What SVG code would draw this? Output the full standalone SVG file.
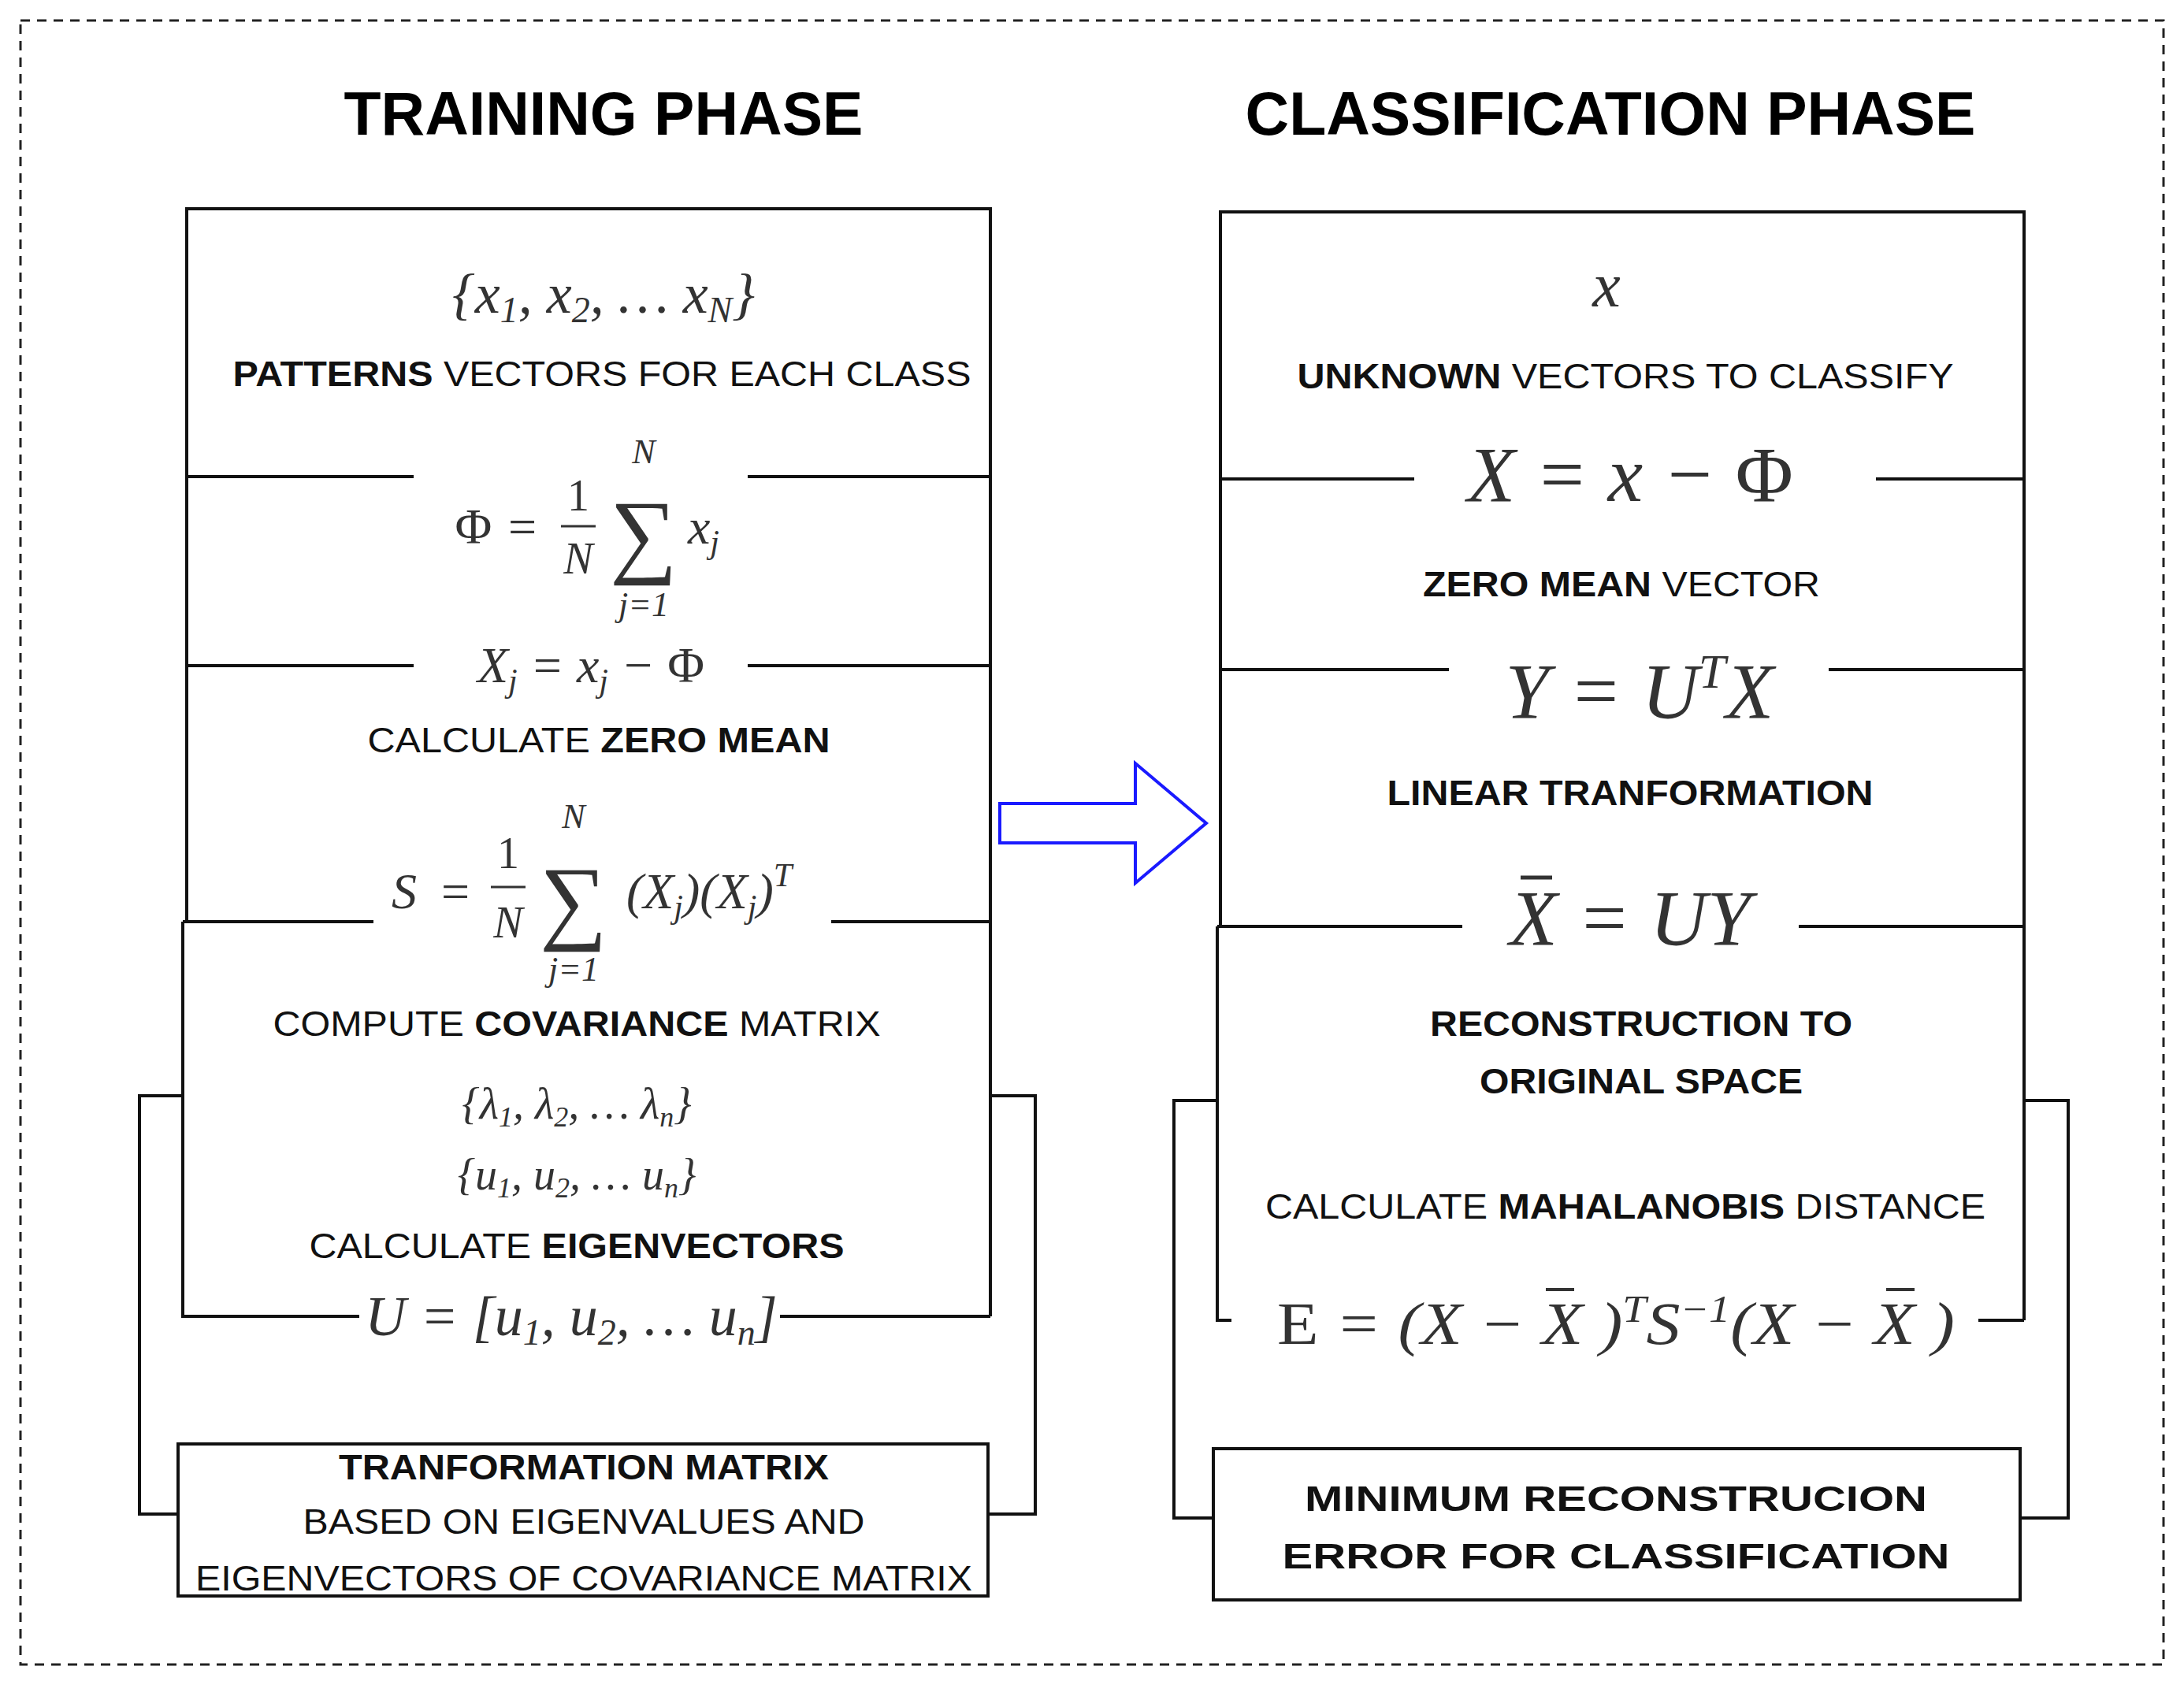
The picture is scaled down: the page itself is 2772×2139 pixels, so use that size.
<svg xmlns="http://www.w3.org/2000/svg" width="2772" height="2139" viewBox="0 0 2772 2139">
<style>
.ln{fill:none;stroke:#111;stroke-width:4}
.lbl{font-family:"Liberation Sans",Arial,sans-serif;font-size:44px;fill:#111;text-anchor:middle}
.b{font-weight:bold}
.ttl{font-family:"Liberation Sans",Arial,sans-serif;font-size:77px;font-weight:bold;fill:#000;text-anchor:middle}
.m{font-family:"Liberation Serif","Times New Roman",serif;font-style:italic;fill:#333;text-anchor:middle}
.mu{font-family:"Liberation Serif","Times New Roman",serif;fill:#333;text-anchor:middle}
</style>
<rect width="2772" height="2139" fill="#fff"/>
<rect x="26" y="26" width="2720" height="2087" fill="none" stroke="#222" stroke-width="3" stroke-dasharray="12,9"/>
<text class="ttl" x="766" y="171">TRAINING PHASE</text>
<text class="ttl" x="2044" y="171">CLASSIFICATION PHASE</text>

<g id="connectors">
<polygon points="1269,1020 1441,1020 1441,969 1531,1045 1441,1121 1441,1070 1269,1070" fill="none" stroke="#1a1aff" stroke-width="4"/>
<polyline class="ln" points="232,1391 177,1391 177,1922 226,1922"/>
<polyline class="ln" points="1257,1391 1314,1391 1314,1922 1254,1922"/>
<polyline class="ln" points="1545,1397 1490,1397 1490,1927 1540,1927"/>
<polyline class="ln" points="2569,1397 2625,1397 2625,1927 2564,1927"/>
</g>

<g id="training_structure">
<polyline class="ln" points="237,1170 237,265 1257,265 1257,1671"/>
<line class="ln" x1="237" y1="605" x2="525" y2="605"/><line class="ln" x1="949" y1="605" x2="1257" y2="605"/>
<line class="ln" x1="237" y1="845" x2="525" y2="845"/><line class="ln" x1="949" y1="845" x2="1257" y2="845"/>
<line class="ln" x1="232" y1="1170" x2="474" y2="1170"/><line class="ln" x1="1055" y1="1170" x2="1257" y2="1170"/>
<polyline class="ln" points="232,1170 232,1671 456,1671"/>
<line class="ln" x1="990" y1="1671" x2="1257" y2="1671"/>
</g>

<g id="node_patterns">
<text class="m" x="766" y="397" font-size="72">{<tspan>x</tspan><tspan font-size="46" dy="12">1</tspan><tspan dy="-12">, x</tspan><tspan font-size="46" dy="12">2</tspan><tspan dy="-12">, … x</tspan><tspan font-size="46" dy="12">N</tspan><tspan dy="-12">}</tspan></text>
<text class="lbl" x="764" y="490" textLength="937" lengthAdjust="spacingAndGlyphs"><tspan class="b">PATTERNS</tspan> VECTORS FOR EACH CLASS</text>
</g>

<g id="node_mean">
<text class="mu" x="601" y="690" font-size="64">Φ</text>
<text class="mu" x="663" y="690" font-size="64">=</text>
<text class="mu" x="734" y="648" font-size="56">1</text>
<line x1="712" y1="668" x2="756" y2="668" stroke="#333" stroke-width="3"/>
<text class="m" x="734" y="728" font-size="56">N</text>
<text class="mu" x="817" y="718" font-size="120">∑</text>
<text class="m" x="817" y="588" font-size="44">N</text>
<text class="m" x="817" y="782" font-size="44">j=1</text>
<text class="m" x="893" y="690" font-size="64">x<tspan font-size="42" dy="12">j</tspan></text>
</g>

<g id="node_zero_mean">
<text class="m" x="750" y="866" font-size="64">X<tspan font-size="42" dy="12">j</tspan><tspan dy="-12"> = x</tspan><tspan font-size="42" dy="12">j</tspan><tspan dy="-12"> − </tspan><tspan font-style="normal">Φ</tspan></text>
<text class="lbl" x="760" y="955" textLength="587" lengthAdjust="spacingAndGlyphs">CALCULATE <tspan class="b">ZERO MEAN</tspan></text>
</g>

<g id="node_covariance">
<text class="m" x="513" y="1153" font-size="64">S</text>
<text class="mu" x="578" y="1153" font-size="64">=</text>
<text class="mu" x="645" y="1102" font-size="56">1</text>
<line x1="623" y1="1126" x2="667" y2="1126" stroke="#333" stroke-width="3"/>
<text class="m" x="645" y="1190" font-size="56">N</text>
<text class="mu" x="728" y="1183" font-size="120">∑</text>
<text class="m" x="728" y="1051" font-size="44">N</text>
<text class="m" x="728" y="1245" font-size="44">j=1</text>
<text class="m" x="900" y="1153" font-size="64">(X<tspan font-size="42" dy="12">j</tspan><tspan dy="-12">)(X</tspan><tspan font-size="42" dy="12">j</tspan><tspan dy="-12">)</tspan><tspan font-size="42" dy="-28">T</tspan></text>
<text class="lbl" x="732" y="1315" textLength="771" lengthAdjust="spacingAndGlyphs">COMPUTE <tspan class="b">COVARIANCE</tspan> MATRIX</text>
</g>

<g id="node_eigen">
<text class="m" x="732" y="1420" font-size="56">{λ<tspan font-size="36" dy="10">1</tspan><tspan dy="-10">, λ</tspan><tspan font-size="36" dy="10">2</tspan><tspan dy="-10">, … λ</tspan><tspan font-size="36" dy="10">n</tspan><tspan dy="-10">}</tspan></text>
<text class="m" x="732" y="1510" font-size="56">{u<tspan font-size="36" dy="10">1</tspan><tspan dy="-10">, u</tspan><tspan font-size="36" dy="10">2</tspan><tspan dy="-10">, … u</tspan><tspan font-size="36" dy="10">n</tspan><tspan dy="-10">}</tspan></text>
<text class="lbl" x="732" y="1597" textLength="679" lengthAdjust="spacingAndGlyphs">CALCULATE <tspan class="b">EIGENVECTORS</tspan></text>
<text class="m" x="725" y="1695" font-size="72">U = [u<tspan font-size="46" dy="12">1</tspan><tspan dy="-12">, u</tspan><tspan font-size="46" dy="12">2</tspan><tspan dy="-12">, … u</tspan><tspan font-size="46" dy="12">n</tspan><tspan dy="-12">]</tspan></text>
</g>

<g id="node_transformation_matrix">
<rect class="ln" x="226" y="1833" width="1028" height="193"/>
<text class="lbl b" x="741" y="1878" textLength="622" lengthAdjust="spacingAndGlyphs">TRANFORMATION MATRIX</text>
<text class="lbl" x="741" y="1947" textLength="713" lengthAdjust="spacingAndGlyphs">BASED ON EIGENVALUES AND</text>
<text class="lbl" x="741" y="2019" textLength="986" lengthAdjust="spacingAndGlyphs">EIGENVECTORS OF COVARIANCE MATRIX</text>
</g>

<g id="classification_structure">
<polyline class="ln" points="1549,1176 1549,269 2569,269 2569,1676"/>
<line class="ln" x1="1549" y1="608" x2="1795" y2="608"/><line class="ln" x1="2381" y1="608" x2="2569" y2="608"/>
<line class="ln" x1="1549" y1="850" x2="1839" y2="850"/><line class="ln" x1="2321" y1="850" x2="2569" y2="850"/>
<line class="ln" x1="1545" y1="1176" x2="1856" y2="1176"/><line class="ln" x1="2283" y1="1176" x2="2569" y2="1176"/>
<polyline class="ln" points="1545,1176 1545,1676 1563,1676"/>
<line class="ln" x1="2511" y1="1676" x2="2569" y2="1676"/>
</g>

<g id="node_unknown">
<text class="m" x="2039" y="389" font-size="80">x</text>
<text class="lbl" x="2063" y="493" textLength="833" lengthAdjust="spacingAndGlyphs"><tspan class="b">UNKNOWN</tspan> VECTORS TO CLASSIFY</text>
</g>
<g id="node_zero_mean_vector">
<text class="m" x="2069" y="636" font-size="100">X = x − <tspan font-style="normal">Φ</tspan></text>
<text class="lbl" x="2058" y="757" textLength="504" lengthAdjust="spacingAndGlyphs"><tspan class="b">ZERO MEAN</tspan> VECTOR</text>
</g>
<g id="node_linear">
<text class="m" x="2081" y="911" font-size="100">Y = U<tspan font-size="62" dy="-38">T</tspan><tspan dy="38">X</tspan></text>
<text class="lbl b" x="2069" y="1022" textLength="617" lengthAdjust="spacingAndGlyphs">LINEAR TRANFORMATION</text>
</g>
<g id="node_reconstruction">
<text class="m" x="2069" y="1199" font-size="100">X = UY</text>
<line x1="1930" y1="1114" x2="1970" y2="1114" stroke="#333" stroke-width="5"/>
<text class="lbl b" x="2083" y="1315" textLength="536" lengthAdjust="spacingAndGlyphs">RECONSTRUCTION TO</text>
<text class="lbl b" x="2083" y="1388" textLength="410" lengthAdjust="spacingAndGlyphs">ORIGINAL SPACE</text>
</g>
<g id="node_mahalanobis">
<text class="lbl" x="2063" y="1547" textLength="914" lengthAdjust="spacingAndGlyphs">CALCULATE <tspan class="b">MAHALANOBIS</tspan> DISTANCE</text>
<text class="m" x="2051" y="1706" font-size="76" textLength="860" lengthAdjust="spacingAndGlyphs"><tspan font-style="normal">E</tspan> = (X − X )<tspan font-size="48" dy="-28">T</tspan><tspan dy="28">S</tspan><tspan font-size="48" dy="-28">−1</tspan><tspan dy="28">(X − X )</tspan></text>
<line x1="1962" y1="1637" x2="1998" y2="1637" stroke="#333" stroke-width="4"/>
<line x1="2394" y1="1637" x2="2430" y2="1637" stroke="#333" stroke-width="4"/>
</g>
<g id="node_min_error">
<rect class="ln" x="1540" y="1839" width="1024" height="192"/>
<text class="lbl b" x="2051" y="1918" font-size="58" textLength="790" lengthAdjust="spacingAndGlyphs">MINIMUM RECONSTRUCION</text>
<text class="lbl b" x="2051" y="1991" font-size="58" textLength="847" lengthAdjust="spacingAndGlyphs">ERROR FOR CLASSIFICATION</text>
</g>
</svg>
